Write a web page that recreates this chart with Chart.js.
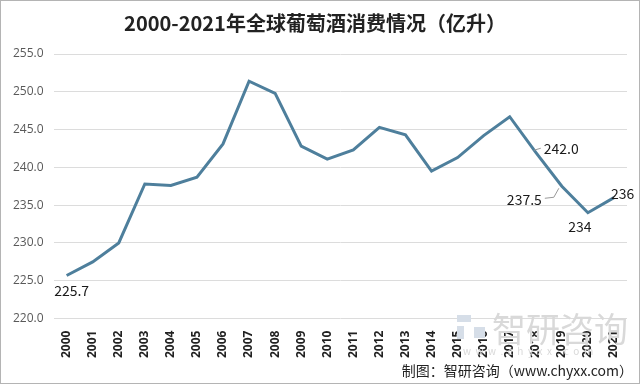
<!DOCTYPE html>
<html>
<head>
<meta charset="utf-8">
<script src="https://cdn.jsdelivr.net/npm/chart.js@4"></script>
<style>
  body { margin: 0; background: #fff; }
  #wrap { position: relative; width: 638px; height: 382px; border: 1px solid #b4b4b4; }
</style>
</head>
<body>
<div id="wrap"><canvas id="wineChart" width="638" height="382"></canvas></div>
<script>
// 年份
const years = ["2000","2001","2002","2003","2004","2005","2006","2007","2008","2009","2010",
  "2011","2012","2013","2014","2015","2016","2017","2018","2019","2020","2021"];
// 消费量（亿升）
const consumption = [225.7, 227.5, 230.0, 237.8, 237.6, 238.7, 243.1, 251.4, 249.8, 242.8, 241.1,
  242.3, 245.3, 244.3, 239.5, 241.3, 244.2, 246.7, 242.0, 237.5, 234, 236];
// labels shown on the line
const pointLabels = { 0: "225.7", 18: "242.0", 19: "237.5", 20: "234", 21: "236" };

const cjk = '"Noto Sans CJK SC", "Noto Sans", sans-serif';

// watermark + source note
const backdrop = {
  id: "backdrop",
  beforeDatasetsDraw(chart) {
    const c = chart.ctx;
    c.save();
    c.fillStyle = "#d6dee8";
    c.fillRect(456, 314, 14, 7);
    c.fillRect(456, 325, 7, 13);
    c.fillRect(473, 326, 11, 11);
    c.fillStyle = "#d9d9d9";
    c.font = "34px " + cjk;
    c.textBaseline = "middle";
    c.fillText("智研咨询", 491, 328);
    c.font = "10px " + cjk;
    c.fillText("w  w  w  .  c  h  y  x  x  .  c  o  m", 462, 350);
    c.restore();
  },
  afterDraw(chart) {
    const c = chart.ctx;
    c.save();
    c.fillStyle = "#222";
    c.font = "14px " + cjk;
    c.textAlign = "right";
    c.textBaseline = "middle";
    c.fillText("制图：智研咨询（www.chyxx.com）", 632, 370);
    c.restore();
  }
};

// value labels with small leader lines
const valueLabels = {
  id: "valueLabels",
  afterDatasetsDraw(chart) {
    const c = chart.ctx;
    const meta = chart.getDatasetMeta(0);
    c.save();
    c.font = "14px " + cjk;
    c.fillStyle = "#1a1a1a";
    c.textBaseline = "middle";
    Object.keys(pointLabels).forEach(k => {
      const i = +k;
      const p = meta.data[i];
      let x = p.x, y = p.y;
      if (i === 0) { c.textAlign = "center"; c.fillText(pointLabels[k], x + 5, y + 15); }
      else if (i === 18) {
        c.strokeStyle = "#999"; c.lineWidth = 1;
        c.beginPath(); c.moveTo(x - 2, y - 2); c.lineTo(x + 5, y - 4); c.stroke();
        c.textAlign = "left"; c.fillText(pointLabels[k], x + 8, y - 4);
      }
      else if (i === 19) {
        c.strokeStyle = "#999"; c.lineWidth = 1;
        c.beginPath(); c.moveTo(x - 3, y + 2); c.lineTo(x - 8, y + 11); c.lineTo(x - 17, y + 12); c.stroke();
        c.textAlign = "right"; c.fillText(pointLabels[k], x - 20, y + 13);
      }
      else if (i === 20) { c.textAlign = "center"; c.fillText(pointLabels[k], x - 8, y + 14); }
      else { c.textAlign = "left"; c.fillText(pointLabels[k], x - 3, y - 4); }
    });
    c.restore();
  }
};

new Chart(document.getElementById("wineChart"), {
  type: "line",
  data: {
    labels: years,
    datasets: [{
      data: consumption,
      borderColor: "#4e7f9c",
      borderWidth: 3,
      pointRadius: 0,
      tension: 0,
      fill: false
    }]
  },
  options: {
    responsive: false,
    animation: false,
    layout: { padding: { left: 2, right: 12, top: 0, bottom: 21 } },
    plugins: {
      legend: { display: false },
      tooltip: { enabled: false },
      title: {
        display: true,
        text: "2000-2021年全球葡萄酒消费情况（亿升）",
        color: "#222",
        font: { family: cjk, size: 20, weight: "bold" },
        padding: { top: 10, bottom: 19 }
      }
    },
    scales: {
      x: {
        offset: true,
        grid: { display: false },
        border: { display: false },
        ticks: {
          minRotation: 90, maxRotation: 90, autoSkip: false,
          color: "#222", padding: 4,
          font: { family: '"Open Sans", sans-serif', size: 12, weight: "bold" }
        }
      },
      y: {
        min: 220, max: 255,
        grid: { color: "#dcdcdc", drawTicks: false },
        border: { display: false },
        ticks: {
          stepSize: 5, padding: 10, color: "#595959",
          font: { family: '"Open Sans", sans-serif', size: 12 },
          callback: v => v.toFixed(1)
        }
      }
    }
  },
  plugins: [backdrop, valueLabels]
});
</script>
</body>
</html>
